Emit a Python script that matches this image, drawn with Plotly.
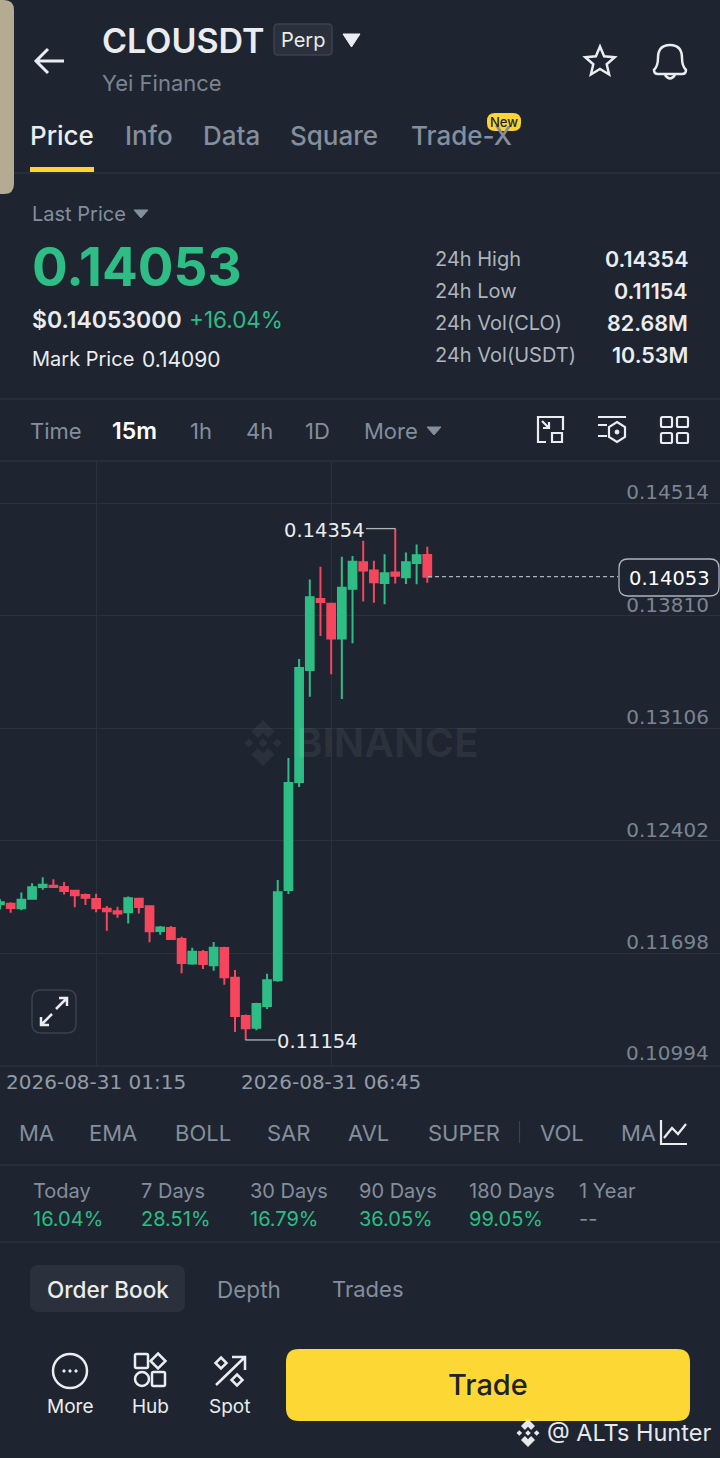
import re
import numpy as np
import pandas as pd
import plotly.graph_objects as go

# ---- candle data (15m candles) ----
opens = [.12003, .12007, .11978, .12038, .12111, .12119, .12111, .12088, .12061, .12036, .11975,
         .11959, .11953, .12038, .11990, .11836, .11855, .11786, .11633, .11704, .11621,
         .11729, .11544, .11304, .11231, .11366, .11527, .12092, .12768, .13469, .13913,
         .13884, .13667, .13978, .14143, .14091, .14013, .14080, .14049, .14139, .14189]
closes = [.12015, .11980, .12032, .12109, .12126, .12111, .12086, .12059, .12044, .11978, .11959,
          .11946, .12040, .11986, .11834, .11857, .11786, .11635, .11706, .11629, .11731,
          .11546, .11304, .11227, .11379, .11527, .12078, .12762, .13481, .13924, .13894,
          .13667, .13984, .14147, .14091, .14018, .14074, .14059, .14143, .14187, .14053]
highs = [.12034, .12015, .12076, .12134, .12172, .12159, .12142, .12088, .12071, .12069, .11992,
         .11988, .12051, .12038, .11994, .11867, .11867, .11800, .11731, .11717, .11767,
         .11738, .11592, .11314, .11387, .11569, .12155, .12918, .13538, .14036, .14116,
         .13884, .14178, .14182, .14278, .14153, .14193, .14354, .14205, .14255, .14241]
lows = [.11971, .11950, .11965, .12032, .12094, .12109, .12065, .11984, .11998, .11953, .11838,
        .11919, .11882, .11946, .11765, .11813, .11781, .11571, .11625, .11598, .11587,
        .11500, .11204, .11154, .11214, .11348, .11519, .12067, .12737, .13302, .13682,
        .13442, .13288, .13636, .13897, .13890, .13880, .14011, .14007, .14005, .14015]
times = pd.date_range("2026-08-30 23:00", periods=len(opens), freq="15min")

price_ticks = [0.14514, 0.13810, 0.13106, 0.12402, 0.11698, 0.10994]
time_ticks = ["2026-08-31 01:15", "2026-08-31 06:45"]
last_price = 0.14053
high_price = 0.14354
low_price = 0.11154

tabs = ["Info", "Data", "Square", "Trade-X"]
stat_labels = ["24h High", "24h Low", "24h Vol(CLO)", "24h Vol(USDT)"]
stat_values = ["0.14354", "0.11154", "82.68M", "10.53M"]
period_labels = ["Today", "7 Days", "30 Days", "90 Days", "180 Days", "1 Year"]
period_values = ["16.04%", "28.51%", "16.79%", "36.05%", "99.05%", "--"]
intervals = ["Time", "15m", "1h", "4h", "1D", "More"]
indicators = ["MA", "EMA", "BOLL", "SAR", "AVL", "SUPER", "VOL", "MA"]

# ---- colours ----
BG = "#1E2530"
PANEL = "#2A313C"
GRID = "#2B323D"
GREY = "#848E9C"
DIM = "#7B8491"
LIGHT = "#EAECEF"
GREEN = "#2EBD85"
RED = "#F6465D"
YELLOW = "#FCD535"
FONT = "Inter"
NUM_FONT = "DejaVu Sans"  # wide digits, closest to the chart's price labels
WATERMARK = "rgba(255,255,255,0.06)"
W, H = 720, 1458


def px(x):
    return x / W


def py(y):
    return 1 - y / H


def to_paper(path):
    """Path written in screen pixels -> paper coordinates."""
    nums = iter(range(10 ** 6))

    def conv(m):
        v = float(m.group())
        return f"{px(v):.5f}" if next(nums) % 2 == 0 else f"{py(v):.5f}"

    return re.sub(r"\d+\.?\d*", conv, path)


shapes = []
notes = []


def draw(path, color=LIGHT, width=2.5, fill=None):
    shapes.append(dict(type="path", path=to_paper(path), xref="paper", yref="paper", layer="above",
                       line=dict(color=color, width=width), fillcolor=fill or "rgba(0,0,0,0)"))


def rrect(x0, y0, x1, y1, r, color=LIGHT, width=2.5, fill=None):
    p = (f"M {x0 + r} {y0} L {x1 - r} {y0} Q {x1} {y0} {x1} {y0 + r} L {x1} {y1 - r} "
         f"Q {x1} {y1} {x1 - r} {y1} L {x0 + r} {y1} Q {x0} {y1} {x0} {y1 - r} "
         f"L {x0} {y0 + r} Q {x0} {y0} {x0 + r} {y0} Z")
    draw(p, color, width, fill)


def circle(cx, cy, r, color=LIGHT, width=2.5, fill=None):
    shapes.append(dict(type="circle", xref="paper", yref="paper", layer="above",
                       x0=px(cx - r), x1=px(cx + r), y0=py(cy + r), y1=py(cy - r),
                       line=dict(color=color, width=width), fillcolor=fill or "rgba(0,0,0,0)"))


def diamond(cx, cy, r, color=LIGHT, width=2.5, fill=None):
    draw(f"M {cx} {cy - r} L {cx + r} {cy} L {cx} {cy + r} L {cx - r} {cy} Z", color, width, fill)


def tri(x0, x1, y0, y1, color=GREY):
    draw(f"M {x0} {y0} L {x1} {y0} L {(x0 + x1) / 2} {y1} Z", color, 1, color)


def hline(y, x0=0, x1=W, color=GRID, width=1.5):
    draw(f"M {x0} {y} L {x1} {y}", color, width)


def text(x, y, s, size=20, color=LIGHT, anchor="left", weight=400):
    if anchor == "left":
        x -= 1.5  # side bearing of the font
    elif anchor == "right":
        x += 1
    notes.append(dict(x=px(x), y=py(y), xref="paper", yref="paper", text=s, showarrow=False,
                      xanchor=anchor, yanchor="middle", borderpad=0,
                      font=dict(family=FONT, size=size, color=color, weight=weight)))


def price_note(x, price, s, anchor, color=LIGHT, shift=-1.5, size=19.5):
    notes.append(dict(x=px(x), y=price, xref="paper", yref="y", text=s, showarrow=False, yshift=shift,
                      xanchor=anchor, yanchor="middle", borderpad=0,
                      font=dict(family=NUM_FONT, size=size, color=color)))


def logo(cx, cy, s, color):
    # five piece exchange mark
    diamond(cx, cy, s * 0.2, color, 0, color)
    diamond(cx - s * 0.62, cy, s * 0.2, color, 0, color)
    diamond(cx + s * 0.62, cy, s * 0.2, color, 0, color)
    a, b, c = s, s * 0.5, s * 0.28
    draw(f"M {cx} {cy - a} L {cx + b} {cy - a + b} L {cx + b - c} {cy - a + b + c} L {cx} {cy - a + 2 * c} "
         f"L {cx - b + c} {cy - a + b + c} L {cx - b} {cy - a + b} Z", color, 0, color)
    draw(f"M {cx} {cy + a} L {cx + b} {cy + a - b} L {cx + b - c} {cy + a - b - c} L {cx} {cy + a - 2 * c} "
         f"L {cx - b + c} {cy + a - b - c} L {cx - b} {cy + a - b} Z", color, 0, color)


# ---- header ----
draw("M 0 0 L 4 0 Q 14 0 14 10 L 14 184 Q 14 194 4 194 L 0 194 Z", "#B5AB92", 0, "#B5AB92")
draw("M 36 61 L 64 61 M 48 49 L 36 61 L 48 73", LIGHT, 3)
text(102, 40, "CLOUSDT", 34, LIGHT, weight=600)
rrect(274, 24, 332, 55, 4, "#3A4250", 1.5, PANEL)
text(303, 40, "Perp", 20, LIGHT, "center")
tri(343, 360, 34, 47, LIGHT)
text(102, 83, "Yei Finance", 22, DIM)

ang = np.arange(10) * np.pi / 5 - np.pi / 2
rad = np.where(np.arange(10) % 2 == 0, 15.5, 7)
star = " L ".join(f"{600 + r * np.cos(a):.1f} {62 + r * np.sin(a):.1f}" for a, r in zip(ang, rad))
draw(f"M {star} Z", LIGHT, 2.5)
draw("M 654 70 Q 658 66 658 58 Q 658 45 670 45 Q 682 45 682 58 Q 682 66 686 70 Q 686 74 682 74 "
     "L 658 74 Q 654 74 654 70 Z M 665 75 Q 670 82 675 75", LIGHT, 2.5)

text(30, 136, "Price", 26, LIGHT, weight=500)
for name, x in zip(tabs, [125, 203, 290, 411]):
    text(x, 136, name, 26, GREY, weight=500)
draw("M 30 169.5 L 94 169.5", YELLOW, 5)
hline(173, x0=14)
rrect(487, 113, 521, 131, 8, YELLOW, 0, YELLOW)
text(504, 122, "New", 13, "#1E2329", "center", 500)

# ---- price block ----
text(32, 214, "Last Price", 20, GREY)
tri(134, 148, 210, 218)
text(32, 267, "0.14053", 53, GREEN, weight=700)
text(32, 320, "$0.14053000", 23, LIGHT, weight=600)
text(189, 320, "+16.04%", 22.5, GREEN)
text(32, 359, "Mark Price", 20, LIGHT)
text(142, 359, "0.14090", 21, LIGHT)
for i, (lab, val) in enumerate(zip(stat_labels, stat_values)):
    text(435, 259 + 32 * i, lab, 20, "#AEB4BC")
    text(688, 259 + 32 * i, val, 21.5, LIGHT, "right", 600)
hline(399)

# ---- interval bar ----
for name, x in zip(intervals, [30, 112, 190, 246, 305, 364]):
    active = name == "15m"
    text(x, 431, name, 23 if active else 22, "#FFFFFF" if active else GREY, weight=600 if active else 400)
tri(427, 441, 427, 435)
draw("M 546 442 L 538 442 L 538 417 L 563 417 L 563 430 M 552 433 L 562 433 L 562 442 L 552 442 Z "
     "M 542 421 L 549 428 M 549 422 L 549 428 L 543 428", LIGHT, 2.2)
draw("M 598 417 L 626 417 M 598 425 L 607 425 M 598 436 L 607 436 "
     "M 617 422 L 625 427 L 625 437 L 617 442 L 609 437 L 609 427 Z", LIGHT, 2.2)
circle(617, 432, 2, LIGHT, 1, LIGHT)
for x0, y0 in [(661, 417), (677, 417), (661, 433), (677, 433)]:
    rrect(x0, y0, x0 + 11, y0 + 10, 1.5, LIGHT, 2.2)
hline(461)
hline(1066)

# ---- chart overlays ----
logo(263, 743, 23, WATERMARK)
text(296, 742, "BINANCE", 40, WATERMARK, weight=700)

shapes.append(dict(type="line", xref="paper", yref="y", layer="above", x0=px(428), x1=px(618),
                   y0=last_price, y1=last_price, line=dict(color="#AEB4BC", width=1.2, dash="4px,3px")))
rrect(619, 559, 719, 596, 9, "#AEB4BC", 1.3, BG)
price_note(669, last_price, "0.14053", "center", "#FFFFFF")

shapes.append(dict(type="line", xref="paper", yref="y", layer="above", x0=px(366), x1=px(395.5),
                   y0=high_price, y1=high_price, line=dict(color="#AEB4BC", width=1.3)))
price_note(366, high_price, "0.14354", "right")
shapes.append(dict(type="line", xref="paper", yref="y", layer="above", x0=px(245.5), x1=px(276),
                   y0=low_price, y1=low_price, line=dict(color="#AEB4BC", width=1.3)))
price_note(276, low_price, "0.11154", "left")

# bottom tick sits on the axis edge, where plotly drops an inside label
price_note(710, price_ticks[-1], f"{price_ticks[-1]:.5f}", "right", DIM, shift=13, size=20)

rrect(32, 990, 76, 1033, 9, "#3A4250", 1.5, BG)
draw("M 56 1009 L 67 998 M 59 998 L 67 998 L 67 1006 M 41 1025 L 52 1014 M 41 1017 L 41 1025 L 49 1025", LIGHT, 2.5)

# ---- indicator strip ----
for name, x in zip(indicators, [19, 89, 175, 267, 348, 428, 540, 621]):
    text(x, 1133, name, 22, GREY)
draw("M 519.5 1121 L 519.5 1143", "#3A4250", 1.2)
shapes.append(dict(type="rect", xref="paper", yref="paper", layer="above", x0=px(646), x1=px(660),
                   y0=py(1150), y1=py(1115), line=dict(width=0), fillcolor="rgba(30,37,48,0.75)"))
draw("M 661 1120 L 661 1144 L 687 1144 M 664 1138 L 672 1128 L 678 1134 L 686 1124", LIGHT, 2.2)
hline(1165)

# ---- period changes ----
for lab, val, x in zip(period_labels, period_values, [33, 141, 250, 359, 469, 579]):
    text(x, 1191, lab, 20, GREY)
    text(x, 1219, val, 20, GREEN if val != "--" else GREY)
hline(1242)

# ---- lower tabs and footer ----
rrect(30, 1265, 185, 1312, 9, PANEL, 0, PANEL)
text(108, 1289, "Order Book", 22.5, LIGHT, "center", 500)
text(217, 1289, "Depth", 22.5, GREY)
text(332, 1289, "Trades", 22, GREY)

circle(70, 1371, 17, LIGHT, 2.5)
for dx in (-6, 0, 6):
    circle(70 + dx, 1371, 1.2, LIGHT, 1, LIGHT)
rrect(135, 1354, 148, 1368, 1.5, LIGHT, 2.5)
diamond(158, 1361, 7.5, LIGHT, 2.5)
circle(142, 1379, 7, LIGHT, 2.5)
rrect(152, 1372, 165, 1386, 1.5, LIGHT, 2.5)
draw("M 216 1385 L 245 1357 M 232 1357 L 245 1357 L 245 1370", LIGHT, 2.5)
diamond(221, 1363, 5.5, LIGHT, 2.5)
diamond(237, 1380, 5.5, LIGHT, 2.5)
text(70, 1406, "More", 19, LIGHT, "center")
text(150, 1406, "Hub", 19, LIGHT, "center")
text(230, 1406, "Spot", 19, LIGHT, "center")
rrect(286, 1349, 690, 1421, 13, "#FDD835", 0, "#FDD835")
text(488, 1384, "Trade", 29, "#1E2329", "center", 500)
logo(528, 1433, 14, "#E6E8EB")
text(547, 1432, "@ ALTs Hunter", 23.5, "#E6E8EB")

# ---- figure ----
fig = go.Figure(go.Candlestick(
    x=times, open=opens, high=highs, low=lows, close=closes,
    increasing=dict(line=dict(color=GREEN, width=2), fillcolor=GREEN),
    decreasing=dict(line=dict(color=RED, width=2), fillcolor=RED),
    whiskerwidth=0, hoverinfo="skip", showlegend=False,
))

fig.update_layout(
    width=W, height=H,
    margin=dict(l=0, r=0, t=0, b=0),
    paper_bgcolor=BG, plot_bgcolor=BG,
    boxgap=0.15, boxgroupgap=0.15,
    shapes=shapes, annotations=notes,
    font=dict(family=FONT),
    xaxis=dict(
        type="date", domain=[0, 1], rangeslider=dict(visible=False),
        range=["2026-08-30 23:00", "2026-08-31 15:51"],
        tickmode="array", tickvals=time_ticks, ticktext=time_ticks,
        ticklabelstandoff=2,
        tickfont=dict(family=NUM_FONT, size=20, color="#939BA7"),
        showgrid=True, gridcolor=GRID, gridwidth=1.2, zeroline=False, showline=False, ticks="",
    ),
    yaxis=dict(
        domain=[1 - 1066 / H, 1 - 461 / H], range=[0.10991, 0.14777], side="right",
        tickmode="array", tickvals=price_ticks, ticktext=[f"{v:.5f}" for v in price_ticks],
        ticklabelposition="inside", ticklabelstandoff=8, ticklabelshift=-11,
        tickfont=dict(family=NUM_FONT, size=20, color=DIM),
        showgrid=True, gridcolor=GRID, gridwidth=1.2, zeroline=False, showline=False, ticks="",
    ),
)

fig.write_html("out.html", config=dict(displayModeBar=False),
               post_script="document.body.style.margin='0';document.body.style.background='#1E2530';")
